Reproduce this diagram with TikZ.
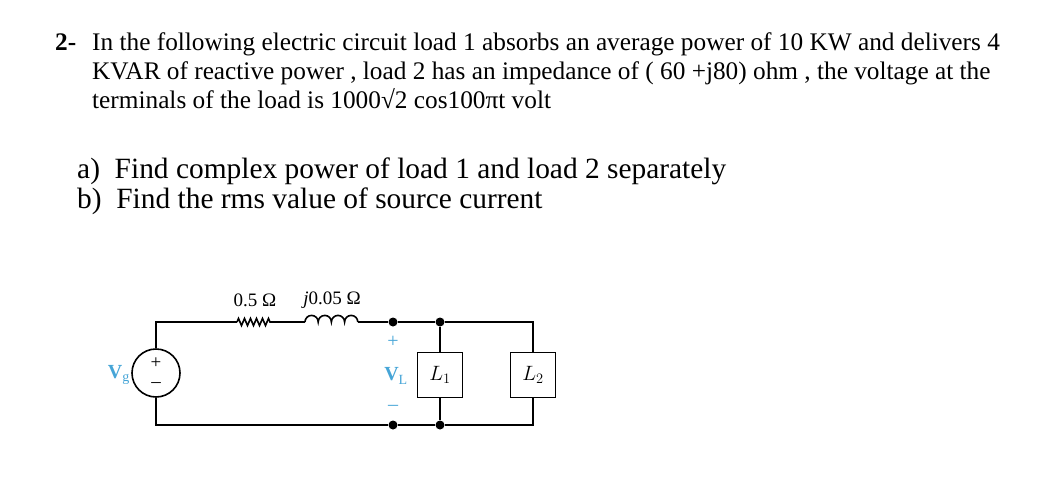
\documentclass[tikz,border=0pt]{standalone}
\usepackage{fontspec}
\setmainfont{Liberation Serif}
\usetikzlibrary{decorations.pathmorphing}
\definecolor{lbl}{RGB}{70,165,215}
\begin{document}
\begin{tikzpicture}[x=1pt,y=-1pt,
  txt/.style={anchor=base west,inner sep=0pt,font=\fontsize{25.3}{25}\selectfont},
  txtb/.style={anchor=base west,inner sep=0pt,font=\fontsize{29.4}{29}\selectfont},
  wire/.style={line width=1.6pt},
  dot/.style={circle,fill,inner sep=0pt,minimum size=9pt},
  load/.style={draw,line width=1.6pt,minimum width=45pt,minimum height=45pt,inner sep=0pt,font=\fontsize{21}{21}\selectfont\itshape},
  clab/.style={inner sep=0pt,font=\fontsize{19}{19}\selectfont},
  blab/.style={inner sep=0pt,text=lbl,font=\fontsize{20}{20}\selectfont}]
\useasboundingbox (0,0) rectangle (1060,479);
\node[txt] (n) at (55,50) {\textbf{2-}};
\node[txt] (l1) at (92,50) {In the following electric circuit load 1 absorbs an average power of 10 KW and delivers 4};
\node[txt] (l2) at (92,79) {KVAR of reactive power , load 2 has an impedance of ( 60 +j80) ohm , the voltage at the};
\node[txt] (l3) at (92,108) {terminals of the load is 1000√2 cos100πt volt};
\node[txtb] (qa) at (77,178) {a)\ \ Find complex power of load 1 and load 2 separately};
\node[txtb] (qb) at (77,208) {b)\ \ Find the rms value of source current};
% circuit
\coordinate (tl) at (156,322);
\coordinate (bl) at (156,425);
\coordinate (r1) at (237,322);
\coordinate (r2) at (272,322);
\coordinate (i1) at (305,322);
\coordinate (i2) at (358,322);
\node[dot] (ta) at (393,322) {};
\node[dot] (tb) at (393,425) {};
\node[dot] (ja) at (440,322) {};
\node[dot] (jb) at (440,425) {};
\coordinate (ra) at (533,322);
\coordinate (rb) at (533,425);
\node[draw,circle,line width=1.6pt,minimum size=48pt,inner sep=0pt] (src) at (156,373) {};
\node[inner sep=0pt,font=\fontsize{19}{19}\selectfont] (sp) at (156,363) {+};
\node[inner sep=0pt,font=\fontsize{19}{19}\selectfont] (sm) at (156,385) {--};
\node[load] (L1) at (440,375) {$L_1$};
\node[load] (L2) at (533,375) {$L_2$};
\draw[wire] (src.north) -- (tl) -- (r1);
\draw[wire,decorate,decoration={zigzag,segment length=6pt,amplitude=3.5pt}] (r1) -- (r2);
\draw[wire] (r2) -- (i1);
\draw[wire] (i1) \foreach \k in {0,1,2,3} { arc[start angle=180,end angle=0,radius=6.6pt] };
\draw[wire] (i2) -- (ta) -- (ja) -- (ra) -- (L2.north);
\draw[wire] (L2.south) -- (rb) -- (jb) -- (tb) -- (bl) -- (src.south);
\draw[wire] (ja) -- (L1.north);
\draw[wire] (L1.south) -- (jb);
\node[clab] (rl) at (255,300) {0.5 Ω};
\node[clab] (il) at (332,300) {\textit{j}0.05 Ω};
\node[blab,anchor=east] (vg) at (130,375) {\textbf{V}$_{\mathrm{g}}$};
\node[blab] (vp) at (393,342) {+};
\node[blab] (vl) at (396,376) {\textbf{V}$_{\mathrm{L}}$};
\node[blab] (vm) at (393,408) {--};
\end{tikzpicture}
\end{document}
